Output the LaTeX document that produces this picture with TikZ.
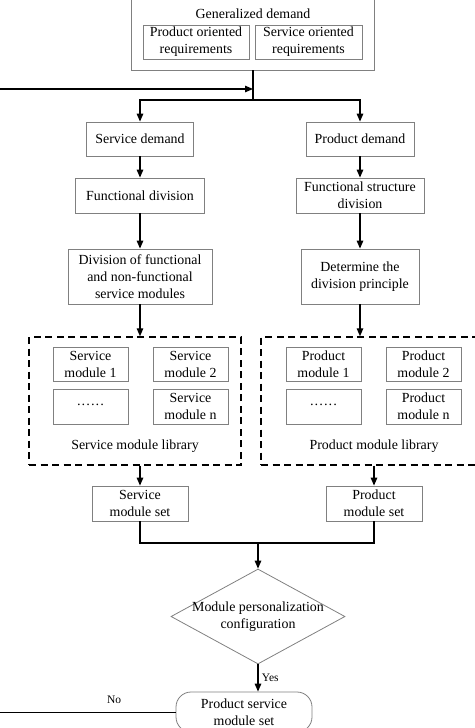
\documentclass[tikz,border=0pt]{standalone}
\usepackage{fontspec}
\setmainfont{Liberation Serif}
\usetikzlibrary{arrows.meta,shapes.geometric}

\newcommand*{\colS}{140}
\newcommand*{\colP}{360}
\newcommand*{\colQ}{374}

\begin{document}
\begin{tikzpicture}
[
	x=1pt, y=-1pt,
	font=\fontsize{13.9}{17}\selectfont,
	box/.style={draw=gray,line width=0.8pt,align=center,inner sep=1pt},
	libbox/.style={draw,line width=1.4pt,dash pattern=on 7pt off 4.5pt},
	flow/.style={-{Triangle[length=8pt,width=6.5pt]},line width=1.3pt},
	joint/.style={line width=1.3pt},
	decision/.style={diamond,draw=gray,line width=0.8pt,inner sep=0pt,minimum width=174pt,minimum height=95pt},
	termbox/.style={draw=gray,line width=0.8pt,rounded corners=15pt,align=center,minimum width=136pt,minimum height=40pt}
]

	\useasboundingbox (0,0) rectangle (474,728);

	% generalized demand
	\node[box,minimum width=243pt,minimum height=80pt] at (253,30) (genbox) {};
	\node at (253,14) (genlabel) {Generalized demand};
	\node[box,minimum width=106pt,minimum height=34pt] at (196,42) (prodreq) {Product oriented\\requirements};
	\node[box,minimum width=107pt,minimum height=34pt] at (308.5,42) (servreq) {Service oriented\\requirements};

	\coordinate (split) at (253,100);
	\coordinate (fbin) at (0,89);

	% service side
	\node[box,minimum width=107pt,minimum height=34pt] at (\colS,139) (sdemand) {Service demand};
	\node[box,minimum width=129pt,minimum height=35pt] at (\colS,195.5) (sfunc) {Functional division};
	\node[box,minimum width=144pt,minimum height=55pt] at (\colS,276.5) (sdiv) {Division of functional\\and non-functional\\service modules};

	% product side
	\node[box,minimum width=108pt,minimum height=34pt] at (\colP,139) (pdemand) {Product demand};
	\node[box,minimum width=128pt,minimum height=35pt] at (\colP,195.5) (pfunc) {Functional structure\\division};
	\node[box,minimum width=118pt,minimum height=55pt] at (\colP,276.5) (pdiv) {Determine the\\division principle};

	% module libraries
	\node[libbox,minimum width=212pt,minimum height=128pt] at (135,401) (slib) {};
	\node[libbox,minimum width=229pt,minimum height=128pt] at (375.5,401) (plib) {};
	\node[box,minimum width=75pt,minimum height=34pt] at (90.5,364) (smod1) {Service\\module 1};
	\node[box,minimum width=75pt,minimum height=34pt] at (190.5,364) (smod2) {Service\\module 2};
	\node[box,minimum width=75pt,minimum height=35pt] at (90.5,406.5) (smoddots) {······};
	\node[box,minimum width=75pt,minimum height=35pt] at (190.5,406.5) (smodn) {Service\\module n};
	\node at (135,446) (slabel) {Service module library};
	\node[box,minimum width=75pt,minimum height=34pt] at (323.5,364) (pmod1) {Product\\module 1};
	\node[box,minimum width=75pt,minimum height=34pt] at (423.5,364) (pmod2) {Product\\module 2};
	\node[box,minimum width=75pt,minimum height=35pt] at (323.5,406.5) (pmoddots) {······};
	\node[box,minimum width=75pt,minimum height=35pt] at (423.5,406.5) (pmodn) {Product\\module n};
	\node at (374,446) (plabel) {Product module library};

	% module sets
	\node[box,minimum width=96pt,minimum height=35pt] at (\colS,503.5) (sset) {Service\\module set};
	\node[box,minimum width=96pt,minimum height=35pt] at (\colQ,503.5) (pset) {Product\\module set};
	\coordinate (merge) at (258,543);

	% configuration
	\node[decision] at (258,616.5) (config) {};
	\node[align=center] at (config) (configtext) {Module personalization\\configuration};
	\node[termbox] at (244,712) (term) {Product service\\module set};
	\coordinate (nolink) at (0,712);

	% connectors
	\draw[joint] (genbox.south) -- (split);
	\draw[flow] (fbin) -- (fbin -| split);
	\draw[flow] (split) -| (sdemand.north);
	\draw[flow] (split) -| (pdemand.north);
	\draw[flow] (sdemand) -- (sfunc);
	\draw[flow] (sfunc) -- (sdiv);
	\draw[flow] (sdiv.south) -- (sdiv.south |- slib.north);
	\draw[flow] (pdemand) -- (pfunc);
	\draw[flow] (pfunc) -- (pdiv);
	\draw[flow] (pdiv.south) -- (pdiv.south |- plib.north);
	\draw[flow] (sset.north |- slib.south) -- (sset.north);
	\draw[flow] (pset.north |- plib.south) -- (pset.north);
	\draw[joint] (sset.south) |- (merge) -| (pset.south);
	\draw[flow] (merge) -- (config.north);
	\draw[flow] (config.south) -- node[right,font=\fontsize{11.5}{14}\selectfont] {Yes} (config.south |- term.north);
	\draw[line width=0.9pt] (term.west) -- node[above=5pt,pos=0.35,font=\fontsize{11.5}{14}\selectfont] {No} (nolink);

\end{tikzpicture}
\end{document}
